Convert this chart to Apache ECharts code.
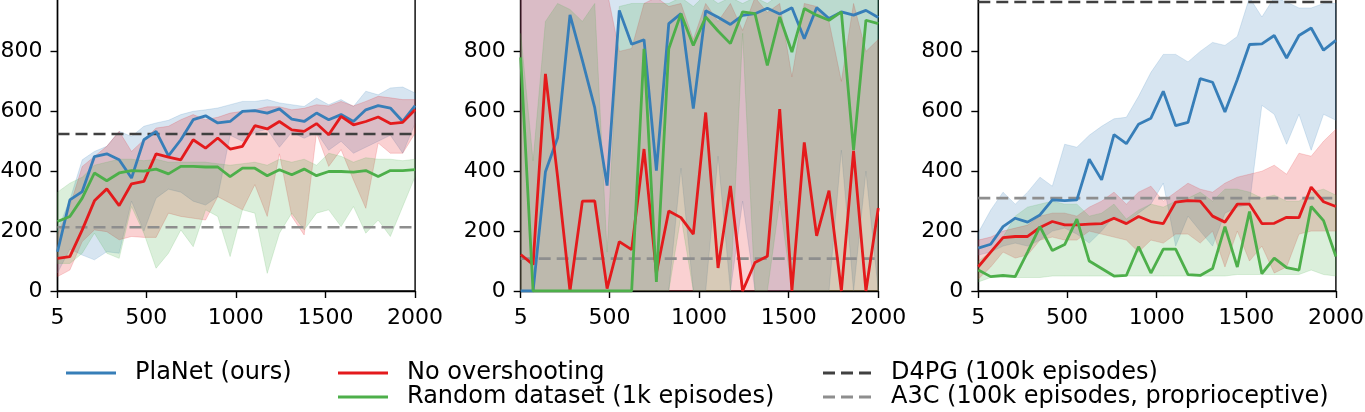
<!DOCTYPE html>
<html>
<head>
<meta charset="utf-8">
<script src="https://cdn.jsdelivr.net/npm/echarts@6/dist/echarts.min.js"></script>
<style>
html,body{margin:0;padding:0;background:#fff;}
#chart{width:1365px;height:412px;}
</style>
</head>
<body>
<div id="chart"></div>
<script>
// x positions (episodes)
const episodes = [5, 74, 143, 211, 280, 349, 418, 487, 555, 624, 693, 762, 831, 899, 968, 1037, 1106, 1175, 1243, 1312, 1381, 1450, 1518, 1587, 1656, 1725, 1794, 1862, 1931, 2000];
const xTicks = [5, 500, 1000, 1500, 2000];

// ---------- Panel 1 ----------
const p1PlaNet      = [131, 304, 332, 449, 458, 438, 377, 505, 533, 451, 505, 572, 585, 561, 566, 600, 602, 594, 608, 574, 566, 594, 572, 589, 566, 605, 619, 611, 566, 619];
const p1PlaNetHi    = [204, 304, 438, 466, 483, 533, 516, 550, 561, 570, 589, 600, 605, 611, 622, 633, 633, 639, 628, 622, 616, 644, 622, 639, 616, 667, 655, 678, 681, 661];
const p1PlaNetLo    = [ 60, 140, 120, 104, 131, 126, 300, 200, 310, 340, 330, 300, 287, 315, 520, 500, 530, 540, 480, 530, 510, 530, 470, 500, 460, 480, 500, 520, 460, 560];
const p1NoOver      = [109, 115, 204, 301, 341, 285, 358, 366, 458, 447, 438, 505, 477, 511, 474, 483, 552, 541, 566, 538, 533, 559, 522, 583, 555, 566, 581, 559, 563, 605];
const p1NoOverHi    = [190, 282, 416, 449, 483, 533, 466, 505, 544, 550, 572, 589, 572, 580, 594, 600, 605, 615, 615, 605, 610, 622, 618, 633, 618, 633, 650, 645, 639, 639];
const p1NoOverLo    = [ 48,  70, 165, 204, 198, 171, 182, 179, 179, 260, 249, 243, 237, 315, 293, 271, 355, 249, 458, 249, 187, 527, 416, 472, 371, 276, 494, 460, 460, 527];
const p1Random      = [232, 249, 310, 394, 368, 394, 402, 400, 407, 391, 416, 416, 414, 414, 382, 410, 410, 385, 405, 388, 407, 385, 399, 399, 397, 402, 382, 402, 402, 405];
const p1RandomHi    = [330, 360, 380, 420, 430, 440, 440, 435, 440, 430, 430, 430, 430, 425, 420, 425, 430, 420, 440, 430, 440, 420, 460, 450, 430, 445, 440, 440, 435, 440];
const p1RandomLo    = [ 92,  92, 126, 193, 126, 109, 282, 193,  76, 126, 204, 148, 271, 249, 115, 271, 260,  59, 193, 260, 204, 260, 271, 215, 282, 193, 237, 182, 282, 382];
const p1D4PG = 524;
const p1A3C  = 213;

// ---------- Panel 2 ----------
const p2PlaNet      = [0, 0, 398, 512, 922, 770, 612, 352, 937, 824, 839, 402, 893, 926, 609, 936, 914, 890, 920, 926, 944, 925, 946, 842, 946, 910, 932, 921, 937, 913];
const p2PlaNetHi    = [1000, 1000, 1000, 1000, 1000, 1000, 1000, 990, 1000, 1000, 1000, 990, 1000, 1000, 990, 1000, 1000, 990, 1000, 1000, 990, 1000, 1000, 990, 1000, 1000, 990, 1000, 1000, 990];
const p2PlaNetLo    = [0, 0, 0, 0, 0, 0, 0, 0, 0, 0, 0, 0, 0, 410, 0, 0, 450, 0, 300, 0, 0, 0, 0, 0, 0, 0, 470, 0, 400, 0];
const p2NoOver      = [122, 88, 725, 380, 0, 300, 301, 8, 165, 138, 474, 60, 267, 245, 190, 596, 77, 351, 0, 95, 116, 607, 0, 496, 184, 335, 0, 468, 0, 277];
const p2NoOverHi    = [1000, 1000, 1000, 1000, 1000, 1000, 1000, 1000, 800, 810, 960, 980, 950, 960, 840, 960, 900, 960, 870, 980, 930, 960, 715, 960, 950, 900, 700, 960, 800, 840];
const p2NoOverLo    = [0, 0, 0, 0, 0, 0, 0, 0, 0, 0, 0, 0, 0, 0, 0, 0, 0, 0, 0, 0, 0, 0, 0, 0, 0, 0, 0, 0, 0, 0];
const p2Random      = [780, 0, 0, 0, 0, 0, 0, 0, 0, 0, 809, 30, 809, 926, 820, 915, 868, 826, 932, 926, 753, 915, 798, 943, 921, 904, 932, 470, 904, 893];
const p2RandomHi    = [860, 435, 900, 960, 940, 900, 960, 130, 950, 960, 960, 960, 960, 980, 950, 990, 960, 980, 960, 980, 960, 990, 980, 990, 990, 980, 990, 990, 990, 990];
const p2RandomLo    = [0, 0, 0, 0, 0, 0, 0, 0, 0, 0, 0, 0, 0, 250, 0, 0, 0, 0, 860, 0, 0, 300, 0, 0, 0, 0, 0, 0, 0, 0];
const p2D4PG = 1010;
const p2A3C  = 108;

// ---------- Panel 3 ----------
const p3PlaNet      = [143, 156, 215, 243, 230, 254, 304, 302, 304, 440, 371, 522, 492, 557, 577, 667, 552, 563, 709, 697, 598, 706, 823, 825, 853, 778, 853, 878, 804, 837];
const p3PlaNetHi    = [195, 270, 330, 290, 330, 380, 350, 490, 480, 520, 550, 575, 580, 650, 730, 790, 790, 765, 800, 830, 820, 850, 980, 915, 980, 965, 945, 945, 960, 960];
const p3PlaNetLo    = [120, 130, 150, 160, 150, 170, 200, 210, 190, 160, 200, 250, 230, 260, 290, 360, 150, 250, 200, 150, 260, 280, 290, 620, 590, 490, 590, 470, 590, 570];
const p3NoOver      = [81, 130, 178, 182, 182, 212, 232, 221, 221, 223, 225, 243, 225, 249, 232, 225, 297, 302, 300, 250, 230, 290, 290, 225, 226, 246, 245, 347, 298, 282];
const p3NoOverHi    = [170, 180, 200, 210, 220, 250, 260, 260, 250, 280, 300, 330, 290, 330, 350, 300, 330, 360, 340, 330, 360, 380, 390, 400, 420, 390, 460, 450, 500, 540];
const p3NoOverLo    = [40, 80, 130, 110, 120, 170, 180, 170, 170, 200, 190, 180, 170, 130, 170, 160, 190, 190, 160, 200, 80, 200, 100, 150, 60, 80, 190, 200, 200, 200];
const p3Random      = [70, 48, 52, 48, 130, 215, 135, 155, 240, 100, 75, 50, 52, 148, 60, 140, 140, 55, 52, 75, 215, 80, 265, 58, 110, 78, 70, 282, 235, 115];
const p3RandomHi    = [100, 130, 180, 250, 280, 290, 300, 290, 290, 250, 260, 290, 240, 270, 290, 280, 300, 310, 330, 300, 340, 340, 330, 310, 320, 300, 300, 330, 340, 320];
const p3RandomLo    = [30, 45, 45, 45, 45, 45, 50, 50, 50, 50, 50, 50, 50, 50, 50, 50, 50, 50, 50, 50, 50, 55, 55, 55, 55, 55, 55, 70, 55, 50];
const p3D4PG = 965;
const p3A3C  = 310;

const NAMES = {
  planet: 'PlaNet (ours)',
  noover: 'No overshooting',
  random: 'Random dataset (1k episodes)',
  d4pg: 'D4PG (100k episodes)',
  a3c: 'A3C (100k episodes, proprioceptive)'
};
const COLORS = { planet: '#377eb8', noover: '#e41a1c', random: '#4daf4a', d4pg: '#404040', a3c: '#8e8e8e' };
const SOLID_ICON = 'path://M0,0H50V3H0Z';
const DASH_ICON = 'path://M0,0H12V3H0Z M18,0H30V3H18Z M36,0H48V3H36Z';

const panels = [
  { planet: [p1PlaNet, p1PlaNetLo, p1PlaNetHi], noover: [p1NoOver, p1NoOverLo, p1NoOverHi], random: [p1Random, p1RandomLo, p1RandomHi], d4pg: p1D4PG, a3c: p1A3C },
  { planet: [p2PlaNet, p2PlaNetLo, p2PlaNetHi], noover: [p2NoOver, p2NoOverLo, p2NoOverHi], random: [p2Random, p2RandomLo, p2RandomHi], d4pg: p2D4PG, a3c: p2A3C },
  { planet: [p3PlaNet, p3PlaNetLo, p3PlaNetHi], noover: [p3NoOver, p3NoOverLo, p3NoOverHi], random: [p3Random, p3RandomLo, p3RandomHi], d4pg: p3D4PG, a3c: p3A3C }
];

const gridLefts = [57.5, 520.7, 978.3];
const gridWidth = 357.6;
const FONT = 'DejaVu Sans';

function hexA(hex, a) {
  const n = parseInt(hex.slice(1), 16);
  return 'rgba(' + (n >> 16) + ',' + ((n >> 8) & 255) + ',' + (n & 255) + ',' + a + ')';
}

const grids = [], xAxes = [], yAxes = [], series = [];
panels.forEach((p, k) => {
  grids.push({ left: gridLefts[k], width: gridWidth, top: -8.5, height: 299.5, outerBoundsMode: 'none', containLabel: false,
    show: true, borderColor: '#000', borderWidth: 1.4, backgroundColor: 'transparent' });
  xAxes.push({
    type: 'value', gridIndex: k, min: 5, max: 2000,
    axisLine: { show: true, lineStyle: { color: '#000', width: 1.4 } },
    axisTick: { show: true, length: 7, lineStyle: { color: '#000', width: 1.4 }, customValues: xTicks },
    axisLabel: { customValues: xTicks, color: '#000', fontSize: 22, fontFamily: FONT, margin: 16, formatter: v => String(v) },
    splitLine: { show: false }
  });
  yAxes.push({
    type: 'value', gridIndex: k, min: 0, max: 1000, interval: 200,
    axisLine: { show: true, lineStyle: { color: '#000', width: 1.4 } },
    axisTick: { show: true, length: 7, lineStyle: { color: '#000', width: 1.4 } },
    axisLabel: { color: '#000', fontSize: 22, fontFamily: FONT, margin: 15, formatter: v => String(v) },
    splitLine: { show: false }
  });
  // bands drawn as polygons through the axis coordinate system
  ['planet', 'noover', 'random'].forEach(key => {
    const [mean, lo, hi] = p[key];
    const bandData = episodes.map((x, i) => [x, lo[i], hi[i]]);
    series.push({
      type: 'custom', name: 'band_' + k + key, xAxisIndex: k, yAxisIndex: k, silent: true, z: 1,
      data: bandData,
      encode: { x: 0, y: [1, 2] },
      clip: true,
      renderItem: function (params, api) {
        if (params.dataIndex !== 0) return null;
        const upper = bandData.map(d => api.coord([d[0], d[2]]));
        const lower = bandData.map(d => api.coord([d[0], d[1]])).reverse();
        return {
          type: 'polygon',
          shape: { points: upper.concat(lower) },
          style: { fill: hexA(COLORS[key], 0.2), stroke: hexA(COLORS[key], 0.22), lineWidth: 0.8 }
        };
      }
    });
  });
  // baselines
  ['d4pg', 'a3c'].forEach(key => {
    series.push({
      type: 'line', name: NAMES[key], xAxisIndex: k, yAxisIndex: k,
      data: [[5, p[key]], [2000, p[key]]], symbol: 'none', silent: true, z: 2,
      lineStyle: { width: 2.6, color: COLORS[key], type: [12, 6] }, itemStyle: { color: COLORS[key] }
    });
  });
  // mean lines
  ['planet', 'noover', 'random'].forEach(key => {
    const mean = p[key][0];
    series.push({
      type: 'line', name: NAMES[key], xAxisIndex: k, yAxisIndex: k,
      data: episodes.map((x, i) => [x, mean[i]]), symbol: 'none', silent: true, z: 3,
      lineStyle: { width: 2.8, color: COLORS[key] }, itemStyle: { color: COLORS[key] }
    });
  });
});

const legendBase = {
  orient: 'vertical', itemWidth: 50, itemHeight: 3, itemGap: 0, padding: 0, selectedMode: false,
  textStyle: { fontSize: 24, fontFamily: FONT, color: '#000', lineHeight: 24, padding: [0, 0, 0, 14] }
};

const option = {
  animation: false,
  backgroundColor: '#fff',
  grid: grids, xAxis: xAxes, yAxis: yAxes, series: series,
  legend: [
    Object.assign({}, legendBase, { left: 66, top: 361, data: [{ name: NAMES.planet, icon: SOLID_ICON }] }),
    Object.assign({}, legendBase, { left: 338, top: 361, data: [{ name: NAMES.noover, icon: SOLID_ICON }, { name: NAMES.random, icon: SOLID_ICON }] }),
    Object.assign({}, legendBase, { left: 823, top: 361, data: [{ name: NAMES.d4pg, icon: DASH_ICON }, { name: NAMES.a3c, icon: DASH_ICON }] })
  ]
};

const chart = echarts.init(document.getElementById('chart'), null, { renderer: 'canvas' });
chart.setOption(option);
</script>
</body>
</html>
